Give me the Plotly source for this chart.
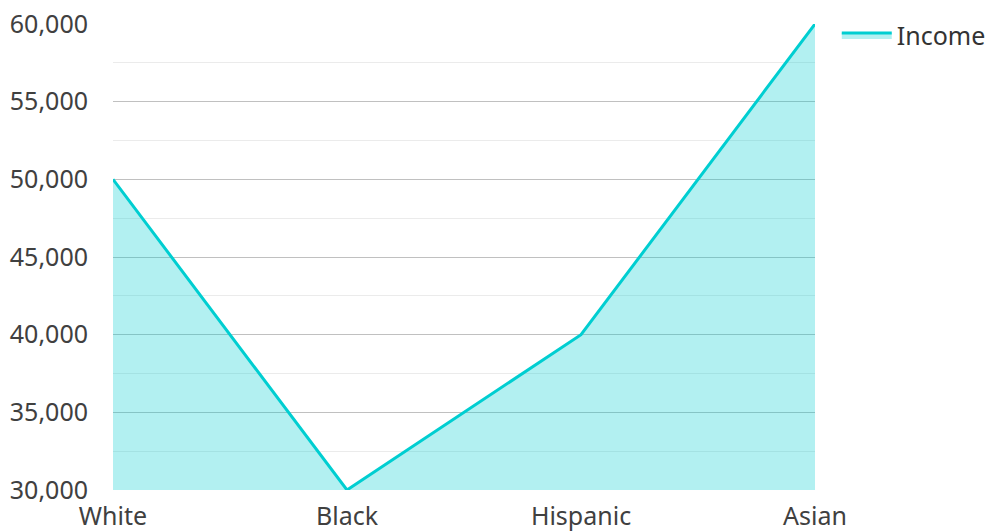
import plotly.graph_objects as go

categories = ["White", "Black", "Hispanic", "Asian"]
income = [50000, 30000, 40000, 60000]
y_ticks = [30000, 35000, 40000, 45000, 50000, 55000, 60000]
y_tick_labels = ["30,000", "35,000", "40,000", "45,000", "50,000", "55,000", "60,000"]

fig = go.Figure()
fig.add_trace(go.Scatter(
    x=categories, y=income, name="Income", mode="lines",
    line=dict(color="#00CED1", width=3),
    fill="tozeroy", fillcolor="rgba(0,206,209,0.3)",
))

font = "Noto Sans, Open Sans, sans-serif"
fig.update_layout(
    width=989, height=531,
    margin=dict(l=113, r=174, t=24, b=41, autoexpand=False),
    paper_bgcolor="white", plot_bgcolor="white",
    font=dict(family=font, size=25, color="#404040"),
    showlegend=True,
    legend=dict(x=1.031, y=1.025, xanchor="left", yanchor="top", itemwidth=50,
                font=dict(size=25, color="#333333"), bgcolor="rgba(0,0,0,0)"),
    xaxis=dict(type="category", range=[0, 3], showgrid=False, zeroline=False,
               showline=False, ticks="", tickfont=dict(size=25), ticklabelstandoff=9),
    yaxis=dict(range=[30000, 60000], tickvals=y_ticks, ticktext=y_tick_labels,
               showgrid=True, gridcolor="#C0C0C0", gridwidth=1, zeroline=False,
               showline=False, ticks="", tickfont=dict(size=25), ticklabelstandoff=24,
               minor=dict(dtick=2500, tick0=30000, showgrid=True, gridcolor="#EBEBEB", gridwidth=1)),
)

fig.write_html("out.html")
